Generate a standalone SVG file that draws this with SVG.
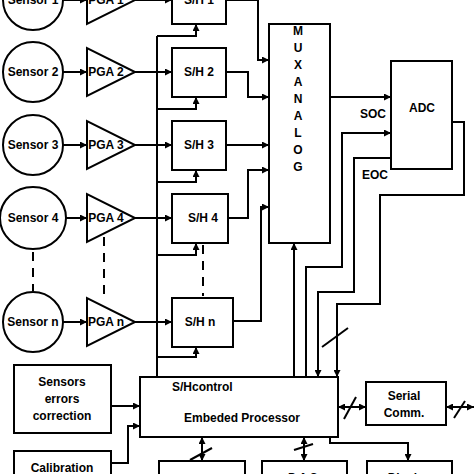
<svg xmlns="http://www.w3.org/2000/svg" width="474" height="474" viewBox="0 0 474 474">
<defs>
<marker id="a" viewBox="0 0 10 10" refX="10" refY="5" markerWidth="8" markerHeight="7" markerUnits="userSpaceOnUse" orient="auto"><path d="M0,0 L10,5 L0,10 z" fill="#000"/></marker>
<marker id="s" viewBox="0 0 10 10" refX="0" refY="5" markerWidth="8" markerHeight="7" markerUnits="userSpaceOnUse" orient="auto"><path d="M10,0 L0,5 L10,10 z" fill="#000"/></marker>
</defs>
<style>
.n{fill:#fff;stroke:#000;stroke-width:2}
.l{fill:none;stroke:#000;stroke-width:2}
.ar{marker-end:url(#a)}
.bi{marker-end:url(#a);marker-start:url(#s)}
.d{fill:none;stroke:#000;stroke-width:2;stroke-dasharray:9,7}
text{font-family:"Liberation Sans",Arial,sans-serif;font-weight:bold;font-size:12px;fill:#000;text-anchor:middle;dominant-baseline:central}
</style>
<rect width="474" height="474" fill="#fff"/>
<g id="connectors">
<!-- sensor to PGA -->
<path class="l ar" d="M63,0 H87"/>
<path class="l ar" d="M63,72 H87"/>
<path class="l ar" d="M63,145 H87"/>
<path class="l ar" d="M66,218 H87"/>
<path class="l ar" d="M63,322 H87"/>
<!-- PGA to S/H -->
<path class="l ar" d="M135,0 H172"/>
<path class="l ar" d="M135,72 H172"/>
<path class="l ar" d="M135,145 H172"/>
<path class="l ar" d="M135,218 H172"/>
<path class="l ar" d="M135,322 H172"/>
<!-- S/H control bus -->
<path class="l" d="M157,377 V36"/>
<path class="l ar" d="M157,36 H196 V24"/>
<path class="l ar" d="M157,109 H196 V97"/>
<path class="l ar" d="M157,182 H196 V170"/>
<path class="l ar" d="M157,255 H196 V243"/>
<path class="l ar" d="M157,357 H196 V347"/>
<!-- dashed -->
<path class="d" d="M33,252 V291"/>
<path class="d" d="M104,237 V299"/>
<path class="d" d="M203,245 V296"/>
<!-- S/H to MUX -->
<path class="l ar" d="M226,0 H258 V60 H269"/>
<path class="l ar" d="M226,72 H248 V97 H269"/>
<path class="l ar" d="M226,145 H269"/>
<path class="l ar" d="M228,218 H248 V170 H269"/>
<path class="l ar" d="M233,321 H261 V207 H269"/>
<!-- processor/MUX/ADC -->
<path class="l ar" d="M294,377 V243"/>
<path class="l ar" d="M330,97 H391"/>
<path class="l ar" d="M306,377 V267 H342 V133 H391"/>
<path class="l ar" d="M391,158 H354 V292 H318 V377"/>
<path class="l ar" d="M452,122 H464 V195 H380 V304 H337 V377"/>
<path class="l" d="M322,347 L348,328"/>
<!-- left inputs -->
<path class="l ar" d="M111,406 H140"/>
<path class="l ar" d="M111,463 H128 V426 H140"/>
<!-- serial -->
<path class="l bi" d="M338,407 H366"/>
<path class="l" d="M344,419 L356,397"/>
<path class="l bi" d="M446,407 H474"/>
<path class="l" d="M454,418 L465,401"/>
<!-- bottom -->
<path class="l bi" d="M202,437 V461"/>
<path class="l" d="M190,460 L212,448"/>
<path class="l bi" d="M304,437 V461"/>
<path class="l" d="M294,450 L313,444"/>
<path class="l ar" d="M330,437 V443 H408 V461"/>
</g>
<g id="sensor1"><circle class="n" cx="33" cy="0" r="30"/><text x="33" y="0">Sensor 1</text></g>
<g id="sensor2"><circle class="n" cx="33" cy="72" r="30"/><text x="33" y="72">Sensor 2</text></g>
<g id="sensor3"><circle class="n" cx="33" cy="145" r="30"/><text x="33" y="145">Sensor 3</text></g>
<g id="sensor4"><ellipse class="n" cx="33" cy="218" rx="33" ry="31"/><text x="33" y="218">Sensor 4</text></g>
<g id="sensorn"><circle class="n" cx="33" cy="322" r="30"/><text x="33" y="322">Sensor n</text></g>
<g id="pga1"><polygon class="n" points="87,-24 87,24 135,0"/><text x="106" y="0">PGA 1</text></g>
<g id="pga2"><polygon class="n" points="87,48 87,96 135,72"/><text x="106" y="72">PGA 2</text></g>
<g id="pga3"><polygon class="n" points="87,121 87,169 135,145"/><text x="106" y="145">PGA 3</text></g>
<g id="pga4"><polygon class="n" points="87,194 87,242 135,218"/><text x="106" y="218">PGA 4</text></g>
<g id="pgan"><polygon class="n" points="87,298 87,346 135,322"/><text x="106" y="322">PGA n</text></g>
<g id="sh1"><rect class="n" x="172" y="-25" width="54" height="49"/><text x="199" y="0">S/H 1</text></g>
<g id="sh2"><rect class="n" x="172" y="48" width="54" height="49"/><text x="199" y="72">S/H 2</text></g>
<g id="sh3"><rect class="n" x="172" y="121" width="54" height="49"/><text x="199" y="145">S/H 3</text></g>
<g id="sh4"><rect class="n" x="172" y="194" width="56" height="49"/><text x="203" y="218">S/H 4</text></g>
<g id="shn"><rect class="n" x="172" y="298" width="61" height="49"/><text x="200" y="322">S/H n</text></g>
<g id="mux"><rect class="n" x="269" y="24" width="61" height="219"/>
<text x="298" y="31">M</text><text x="298" y="48">U</text><text x="298" y="65">X</text><text x="298" y="82">A</text><text x="298" y="99">N</text><text x="298" y="116">A</text><text x="298" y="133">L</text><text x="298" y="150">O</text><text x="298" y="167">G</text></g>
<g id="adc"><rect class="n" x="391" y="61" width="61" height="108"/><text x="422" y="108">ADC</text></g>
<g id="labels"><text x="373" y="114">SOC</text><text x="375" y="175">EOC</text></g>
<g id="processor"><rect class="n" x="140" y="377" width="198" height="60"/><text x="172" y="387" style="text-anchor:start">S/Hcontrol</text><text x="242" y="418">Embeded Processor</text></g>
<g id="errors"><rect class="n" x="14" y="365" width="97" height="68"/><text x="62" y="382">Sensors</text><text x="62" y="399">errors</text><text x="62" y="416">correction</text></g>
<g id="calibration"><rect class="n" x="14" y="451" width="97" height="40"/><text x="62" y="468">Calibration</text></g>
<g id="serial"><rect class="n" x="366" y="382" width="80" height="43"/><text x="404" y="396">Serial</text><text x="404" y="413">Comm.</text></g>
<g id="box1"><rect class="n" x="159" y="461" width="86" height="30"/></g>
<g id="dac"><rect class="n" x="262" y="461" width="85" height="30"/><text x="304" y="478" style="letter-spacing:2px">DAC</text></g>
<g id="display"><rect class="n" x="367" y="461" width="85" height="30"/><text x="409" y="478">Display</text></g>
</svg>
